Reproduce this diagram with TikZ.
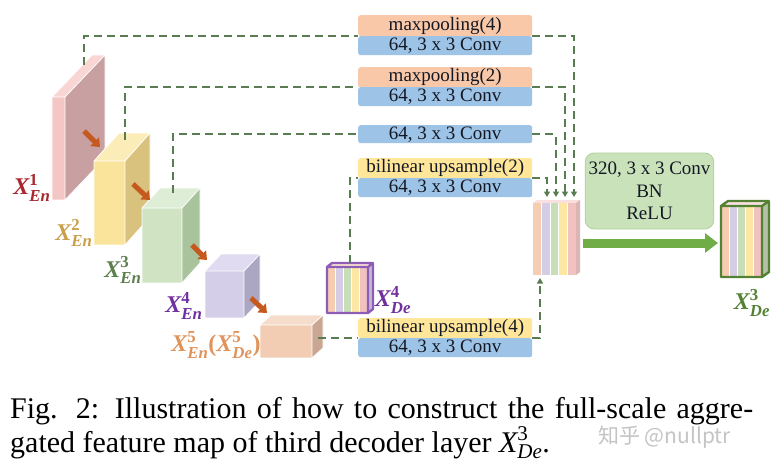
\documentclass[tikz,border=0pt]{standalone}
\usepackage{fontspec}
\setmainfont{Liberation Serif}
\newfontfamily\cjkfont{Noto Sans CJK SC}
\usepackage{amsmath}
\usetikzlibrary{arrows.meta}
\pgfdeclarelayer{fg}
\pgfsetlayers{main,fg}
\definecolor{dgreen}{HTML}{5A7C52}
\definecolor{boxblue}{HTML}{9DC3E6}
\definecolor{boxorange}{HTML}{F8C8A8}
\definecolor{boxyellow}{HTML}{FFE699}
\definecolor{txtc}{HTML}{141824}
\definecolor{sPeach}{HTML}{F6CDB0}
\definecolor{sLav}{HTML}{D5CDE6}
\definecolor{sGreen}{HTML}{C8DEB8}
\definecolor{sYellow}{HTML}{FCE8A4}
\definecolor{sPink}{HTML}{F2C2C0}
\definecolor{arrOr}{HTML}{C65A1E}
\definecolor{bigG}{HTML}{70AD47}
\definecolor{gbox}{HTML}{C9E2BA}
\definecolor{gboxb}{HTML}{AFD199}
\definecolor{outG}{HTML}{548235}
\definecolor{purp}{HTML}{8E5DB8}
\definecolor{labR}{HTML}{A8282E}
\definecolor{labY}{HTML}{C9A04A}
\definecolor{labG}{HTML}{5C7F4E}
\definecolor{labP}{HTML}{7030A0}
\definecolor{labO}{HTML}{E0935A}
\definecolor{wmgray}{HTML}{C4C4C4}
% cube: x0 ytop x1 ybottom dx dy front side top
\newcommand{\mycube}[9]{%
  \fill[#9] (#1,#2) -- ++(#5,#6) -- (#3+#5,#2+#6) -- (#3,#2) -- cycle;
  \fill[#8] (#3,#2) -- (#3+#5,#2+#6) -- (#3+#5,#4+#6) -- (#3,#4) -- cycle;
  \fill[#7] (#1,#2) rectangle (#3,#4);
  \draw[white,line width=0.8pt,line join=round] (#1,#4) -- (#1,#2) -- ++(#5,#6) -- (#3+#5,#2+#6) -- (#3+#5,#4+#6) -- (#3,#4) -- cycle
     (#1,#2) -- (#3,#2) -- (#3,#4) (#3,#2) -- (#3+#5,#2+#6);
}
% striped block: x0 ytop x1 ybottom
\newcommand{\mystripes}[4]{%
  \fill[sPeach] (#1,#2) rectangle ({#1+(#3-#1)/5},#4);
  \fill[sLav] ({#1+(#3-#1)/5},#2) rectangle ({#1+2*(#3-#1)/5},#4);
  \fill[sGreen] ({#1+2*(#3-#1)/5},#2) rectangle ({#1+3*(#3-#1)/5},#4);
  \fill[sYellow] ({#1+3*(#3-#1)/5},#2) rectangle ({#1+4*(#3-#1)/5},#4);
  \fill[sPink] ({#1+4*(#3-#1)/5},#2) rectangle (#3,#4);
  \foreach \k in {1,2,3,4} {\draw[white,line width=0.7pt] ({#1+\k*(#3-#1)/5},#2) -- ({#1+\k*(#3-#1)/5},#4);}
}
\newcommand{\xl}[3]{\textcolor{#3}{$\text{\bfseries\itshape X}^{\text{\bfseries #1}}_{\text{\bfseries\itshape #2}}$}}
\begin{document}
\begin{tikzpicture}[x=1pt,y=-1pt,
  conn/.style={dgreen,line width=2.1pt,dash pattern=on 8pt off 5pt},
  tipd/.style={-{Triangle[length=5.5pt,width=6pt]}},
  opbox/.style={rounded corners=2.5pt,minimum width=174pt,inner sep=0pt,anchor=north west,
     font=\fontsize{19}{20}\selectfont,text=txtc},
  lab/.style={inner sep=0pt,font=\fontsize{24}{25}\selectfont},
  orarr/.style={arrOr,line width=5pt,-{Triangle[length=7.5pt,width=12pt]}},
  capt/.style={anchor=base west,inner sep=0pt,font=\fontsize{30}{34}\selectfont}]
\useasboundingbox (0,0) rectangle (781,471);
\fill[white] (0,0) rectangle (781,471);

% encoder cubes
\mycube{52}{97}{65}{200}{40}{-42}{fill={rgb,255:red,244;green,198;blue,196}}{fill={rgb,255:red,200;green,160;blue,162}}{fill={rgb,255:red,249;green,214;blue,212}}
\mycube{94}{161}{125}{245}{25}{-28}{fill={rgb,255:red,250;green,227;blue,154}}{fill={rgb,255:red,217;green,194;blue,126}}{fill={rgb,255:red,252;green,237;blue,184}}
\mycube{142}{208}{182}{283}{18}{-20}{fill={rgb,255:red,208;green,228;blue,196}}{fill={rgb,255:red,169;green,196;blue,156}}{fill={rgb,255:red,222;green,237;blue,213}}
\mycube{205}{271}{244}{318}{16}{-17}{fill={rgb,255:red,213;green,206;blue,232}}{fill={rgb,255:red,171;green,166;blue,194}}{fill={rgb,255:red,224;green,219;blue,240}}
\mycube{260}{325}{312}{358}{11}{-10}{fill={rgb,255:red,242;green,205;blue,180}}{fill={rgb,255:red,201;green,167;blue,146}}{fill={rgb,255:red,246;green,220;blue,202}}

% named points on the cubes
\coordinate (x1t) at (84,65);
\coordinate (x2t) at (125,140);
\coordinate (x3t) at (173,193);
\coordinate (x5r) at (318,338);
\coordinate (a1s) at (84,131); \coordinate (a1e) at (100,147);
\coordinate (a2s) at (133,184); \coordinate (a2e) at (150,200);
\coordinate (a3s) at (192,245); \coordinate (a3e) at (207,260);
\coordinate (a4s) at (251,298); \coordinate (a4e) at (267,313);
\draw[orarr] (a1s) -- (a1e);
\draw[orarr] (a2s) -- (a2e);
\draw[orarr] (a3s) -- (a3e);
\draw[orarr] (a4s) -- (a4e);

% X4_De block
\fill[sPeach!60!white] (327,267) -- (332,263) -- (373,263) -- (368,267) -- cycle;
\fill[sLav!80!gray] (368,267) -- (373,263) -- (373,309) -- (368,313) -- cycle;
\mystripes{327}{267}{368}{313}
\draw[purp,line width=2.4pt,line join=round] (327,313) -- (327,267) -- (332,263) -- (373,263) -- (373,309) -- (368,313) -- cycle (327,267) -- (368,267) -- (368,313) (368,267) -- (373,263);
\coordinate (d4t) at (350,263);

% concatenated block
\fill[sPink!50!white] (533,203) -- (537,200) -- (580,200) -- (576,203) -- cycle;
\fill[sPink!80!gray] (576,203) -- (580,200) -- (580,272) -- (576,275) -- cycle;
\mystripes{533}{203}{576}{275}
\coordinate (cin1) at (547,197);
\coordinate (cin2) at (556,197);
\coordinate (cin3) at (565,197);
\coordinate (cin4) at (574,197);
\coordinate (cin5) at (540,278);

% output block X3_De
\fill[sPink!50!white] (721,206) -- (728,201) -- (769,201) -- (762,206) -- cycle;
\fill[sGreen!70!gray] (762,206) -- (769,201) -- (769,272) -- (762,277) -- cycle;
\mystripes{721}{206}{762}{277}
\draw[outG,line width=2.4pt,line join=round] (721,277) -- (721,206) -- (728,201) -- (769,201) -- (769,272) -- (762,277) -- cycle (721,206) -- (762,206) -- (762,277) (762,206) -- (769,201);

% operation boxes (foreground)
\begin{pgfonlayer}{fg}
\node[opbox,fill=boxorange,minimum height=21pt] (m4) at (358,15) {maxpooling(4)};
\node[opbox,fill=boxblue,minimum height=19pt] (c1) at (358,36) {64, 3 x 3 Conv};
\node[opbox,fill=boxorange,minimum height=20pt] (m2) at (358,67) {maxpooling(2)};
\node[opbox,fill=boxblue,minimum height=19pt] (c2) at (358,87) {64, 3 x 3 Conv};
\node[opbox,fill=boxblue,minimum height=18pt] (c3) at (358,125) {64, 3 x 3 Conv};
\node[opbox,fill=boxyellow,minimum height=20pt] (u2) at (358,158) {bilinear upsample(2)};
\node[opbox,fill=boxblue,minimum height=19pt] (c4) at (358,178) {64, 3 x 3 Conv};
\node[opbox,fill=boxyellow,minimum height=20pt] (u4) at (358,318) {bilinear upsample(4)};
\node[opbox,fill=boxblue,minimum height=19pt] (c5) at (358,338) {64, 3 x 3 Conv};
\node[rounded corners=9pt,fill=gbox,draw=gboxb,line width=0.8pt,minimum width=127pt,minimum height=76pt,
      align=center,font=\fontsize{19}{22.5}\selectfont,text=txtc] (conv) at (649.5,191) {320, 3 x 3 Conv\\BN\\ReLU};
\end{pgfonlayer}

% dashed skip connectors
\draw[conn] (x1t) |- (c1.north west);
\draw[conn,tipd] (c1.north east) -| (cin4);
\draw[conn] (x2t) |- (c2.north west);
\draw[conn,tipd] (c2.north east) -| (cin3);
\draw[conn] (x3t) |- (c3.west);
\draw[conn,tipd] (c3.east) -| (cin2);
\draw[conn] (d4t) |- (c4.north west);
\draw[conn,tipd] (c4.north east) -| (cin1);
\draw[conn] (x5r) -- (c5.north west);
\draw[conn,tipd] (c5.north east) -| (cin5);

% big green arrow
\coordinate (ga) at (583,243);
\coordinate (gb) at (718,243);
\draw[bigG,line width=9pt,-{Triangle[length=13pt,width=19pt]}] (ga) -- (gb);

% labels
\node[lab] (l1) at (32,188) {\xl{1}{En}{labR}};
\node[lab] (l2) at (74,233) {\xl{2}{En}{labY}};
\node[lab] (l3) at (123,270) {\xl{3}{En}{labG}};
\node[lab] (l4) at (184,306) {\xl{4}{En}{labP}};
\node[lab] (l5) at (216,345) {\xl{5}{En}{labO}\textcolor{labO}{\bfseries(}\xl{5}{De}{labO}\textcolor{labO}{\bfseries)}};
\node[lab] (ld4) at (393,300) {\xl{4}{De}{labP}};
\node[lab] (ld3) at (752,303) {\xl{3}{De}{outG}};

% caption
\node[capt] (cap1) at (10,418) {\makebox[743pt][s]{Fig. 2: Illustration of how to construct the full-scale aggre-}};
\node[capt] (cap2) at (10,452) {gated feature map of third decoder layer $\smash[t]{\text{\itshape X}^{\text{3}}_{\text{\itshape De}}}$.};
\node[anchor=west,inner sep=0pt,text=wmgray,font=\fontsize{21}{22}\selectfont\cjkfont] (wm) at (598,437) {知乎 @nullptr};
\end{tikzpicture}
\end{document}
